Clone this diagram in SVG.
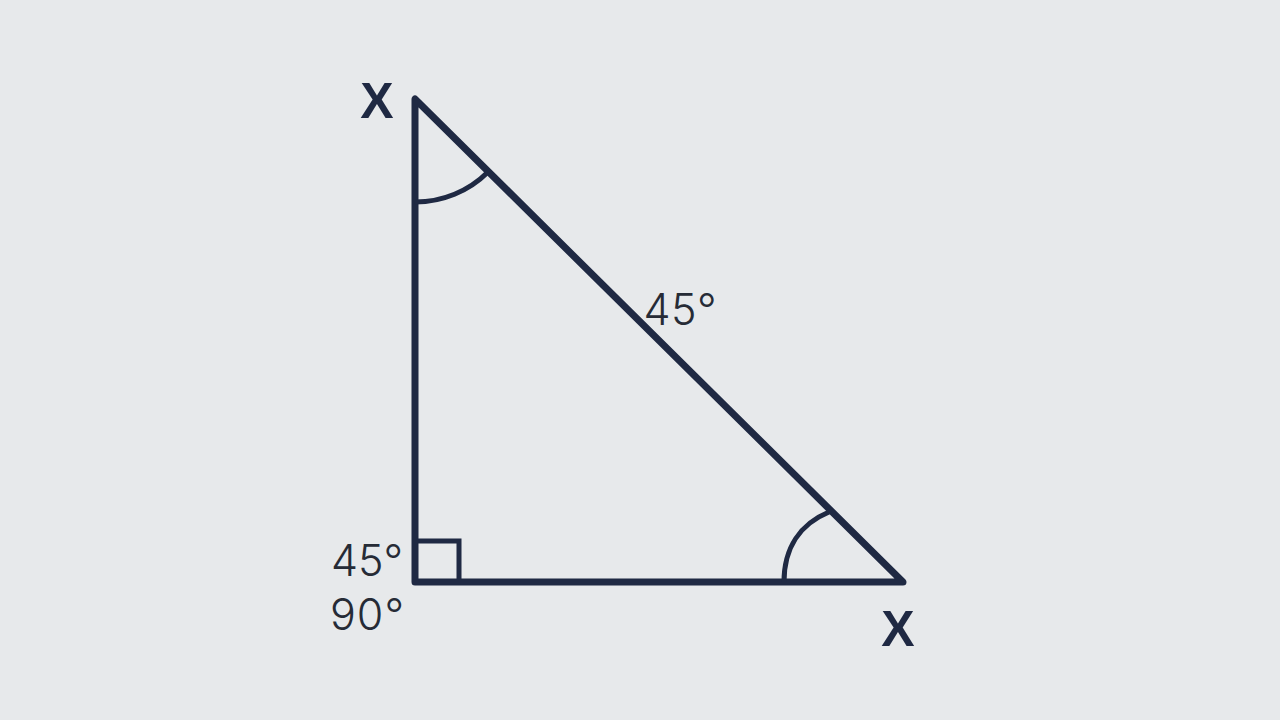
<svg xmlns="http://www.w3.org/2000/svg" width="1280" height="720" viewBox="0 0 1280 720">
<style>
.ln{fill:none;stroke:#1f2943;stroke-width:7;stroke-linecap:round;stroke-linejoin:round}
.arc{fill:none;stroke:#1f2943;stroke-width:5}
.lbl{font-family:Inter,"Noto Sans",sans-serif;font-size:43px;fill:#262b36;font-weight:300}
.vx{font-family:"Liberation Sans",Arial,sans-serif;font-size:50px;font-weight:bold;fill:#1f2943}
</style>
<rect width="1280" height="720" fill="#e7e9eb"/>
<g id="connectors">
<path class="ln" d="M415 99 L415 582 L903 582 Z"/>
</g>
<g id="angle-top"><path class="arc" d="M415 202 A103 103 0 0 0 488 172"/></g>
<g id="angle-right"><path class="arc" d="M784 582 C784 548 800 524 829 512"/></g>
<g id="right-angle"><path class="arc" d="M417 541 L459 541 L459 580"/></g>
<g id="label-top"><text class="vx" x="377" y="118" text-anchor="middle">X</text></g>
<g id="label-right"><text class="vx" x="898" y="646" text-anchor="middle">X</text></g>
<g id="label-hyp"><text class="lbl" x="680" y="325" text-anchor="middle" textLength="73">45°</text></g>
<g id="label-45"><text class="lbl" x="367" y="576" text-anchor="middle" textLength="72">45°</text></g>
<g id="label-90"><text class="lbl" x="367" y="630" text-anchor="middle" textLength="74">90°</text></g>
</svg>
